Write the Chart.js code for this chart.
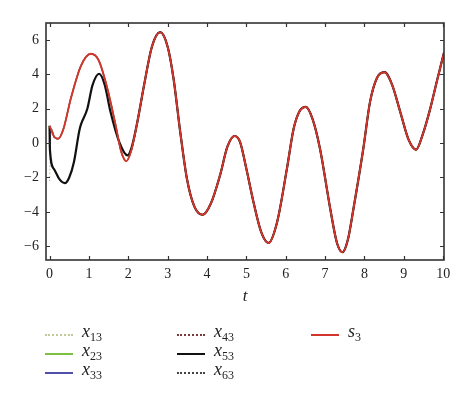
<!DOCTYPE html>
<html>
<head>
<meta charset="UTF-8">
<title>s3</title>
<style>
  body { margin: 0; background: #fff; }
  #wrap { position: relative; width: 474px; height: 402px; }
  #c { position: absolute; left: 0; top: 0; }
  .item { position: absolute; width: 110px; height: 20px; font-family: "Liberation Serif", serif; font-size: 18px; font-style: italic; color: #222; }
  .item .ln { position: absolute; left: 0; top: 10px; width: 28px; height: 0; }
  .item .tx { position: absolute; left: 37px; top: -3px; white-space: nowrap; }
  .item sub { font-style: normal; font-size: 12px; vertical-align: -4px; }
</style>
</head>
<body>
<div id="wrap">
  <canvas id="c" width="474" height="402"></canvas>
  <div id="legend"></div>
</div>
<script src="https://cdn.jsdelivr.net/npm/chart.js"></script>
<script>
// s3 (red)
const tS3 = [0, 0.04, 0.12, 0.22, 0.35, 0.54, 0.80, 1.05, 1.25, 1.47, 1.68, 1.82, 1.95, 2.08, 2.23, 2.40, 2.60, 2.81,
  3.00, 3.15, 3.32, 3.49, 3.68, 3.89, 4.10, 4.33, 4.52, 4.70, 4.84, 5.00, 5.18, 5.38, 5.56, 5.78, 6.03, 6.20, 6.35,
  6.51, 6.68, 6.87, 7.13, 7.30, 7.44, 7.58, 7.72, 7.97, 8.14, 8.32, 8.51, 8.70, 8.91, 9.12, 9.31, 9.48, 9.67, 9.85, 10.02];
const s3 = [0.99, 0.8, 0.35, 0.25, 0.8, 2.58, 4.5, 5.19, 4.8, 3.16, 1.03, -0.5, -1.05, -0.4, 1.22, 3.35, 5.6, 6.45,
  5.6, 3.74, 0.64, -2.08, -3.7, -4.17, -3.5, -1.88, -0.2, 0.41, 0.06, -1.5, -3.43, -5.2, -5.81, -4.6, -1.49, 0.83, 1.85,
  2.10, 1.4, -0.33, -3.82, -5.8, -6.35, -5.6, -3.82, -0.33, 2.38, 3.8, 4.12, 3.4, 1.80, 0.2, -0.38, 0.5, 2.0, 3.7, 5.25];

// x53 (black) before it joins s3
const tX53 = [0, 0.01, 0.11, 0.25, 0.39, 0.50, 0.62, 0.75, 0.79, 0.96, 1.09, 1.26, 1.40, 1.55, 1.77, 1.98, 2.08, 2.23];
const x53 = [1.0, -0.4, -1.5, -2.1, -2.33, -2.0, -1.1, 0.64, 1.03, 1.99, 3.35, 4.03, 3.4, 1.8, 0.06, -0.72, -0.3, 1.22];

// the other states start somewhere else and join s3 almost at once
const otherNames = ['x13', 'x23', 'x33', 'x43', 'x63'];
const otherStart = [-2.2, 1.0, -0.2, 0.0, -0.4];

const xTicks = [0, 1, 2, 3, 4, 5, 6, 7, 8, 9, 10];
const yTicks = [-6, -4, -2, 0, 2, 4, 6];

const styles = {
  x13: { color: '#c3c89a', dash: [1.5, 2], w: 1.2 },
  x23: { color: '#7cc142', dash: [], w: 1.4 },
  x33: { color: '#4f4fa8', dash: [], w: 1.4 },
  x43: { color: '#7a3a3a', dash: [1.5, 2], w: 1.2 },
  x53: { color: '#111111', dash: [], w: 2.2 },
  x63: { color: '#444444', dash: [1.5, 2], w: 1.2 },
  s3:  { color: '#d3352d', dash: [], w: 1.9 }
};

const s3Pts = tS3.map((t, i) => ({ x: t, y: s3[i] }));

function ds(name, data) {
  const st = styles[name];
  return {
    label: name, data: data,
    borderColor: st.color, borderWidth: st.w, borderDash: st.dash,
    pointRadius: 0, fill: false, cubicInterpolationMode: 'monotone'
  };
}

const datasets = [ds('s3', s3Pts)]; // first = drawn on top
datasets.push(ds('x53', tX53.map((t, i) => ({ x: t, y: x53[i] }))
  .concat(s3Pts.filter(p => p.x > tX53[tX53.length - 1]))));
otherNames.forEach((n, k) => {
  datasets.push(ds(n, [{ x: 0, y: otherStart[k] }].concat(s3Pts.slice(1))));
});

const serif = '"Liberation Serif", "DejaVu Serif", serif';

const frame = {
  id: 'frame',
  afterDatasetsDraw(chart) {
    const { ctx, chartArea: a, scales: { x, y } } = chart;
    ctx.save();
    ctx.strokeStyle = '#333';
    ctx.lineWidth = 1.6;
    ctx.strokeRect(a.left, a.top, a.right - a.left, a.bottom - a.top);
    ctx.beginPath();
    xTicks.forEach(v => {
      const px = Math.round(x.getPixelForValue(v)) + 0.5;
      ctx.moveTo(px, a.bottom); ctx.lineTo(px, a.bottom - 4);
      ctx.moveTo(px, a.top); ctx.lineTo(px, a.top + 4);
    });
    yTicks.forEach(v => {
      const py = Math.round(y.getPixelForValue(v)) + 0.5;
      ctx.moveTo(a.left, py); ctx.lineTo(a.left + 4, py);
      ctx.moveTo(a.right, py); ctx.lineTo(a.right - 4, py);
    });
    ctx.lineWidth = 1.2;
    ctx.stroke();
    ctx.restore();
  }
};

new Chart(document.getElementById('c'), {
  type: 'line',
  data: { datasets: datasets },
  options: {
    responsive: false,
    animation: false,
    layout: { padding: { left: 0, top: 23, right: 30, bottom: 92 } },
    plugins: { legend: { display: false }, tooltip: { enabled: false } },
    scales: {
      x: {
        type: 'linear', min: -0.09, max: 10.02,
        afterBuildTicks: s => { s.ticks = xTicks.map(v => ({ value: v })); },
        afterFit: s => { s.height = 50; },
        grid: { display: false, drawTicks: false },
        border: { display: false },
        ticks: { padding: 6, color: '#222', font: { family: serif, size: 14 }, maxRotation: 0 },
        title: { display: true, text: 't', color: '#222', font: { family: serif, size: 17, style: 'italic' }, padding: { top: 0, bottom: 3 } }
      },
      y: {
        min: -6.8, max: 6.98,
        afterBuildTicks: s => { s.ticks = yTicks.map(v => ({ value: v })); },
        afterFit: s => { s.width = 46; },
        grid: { display: false, drawTicks: false },
        border: { display: false },
        ticks: { padding: 7, color: '#222', font: { family: serif, size: 14 },
          callback: v => String(v).replace('-', '\u2212') }
      }
    }
  },
  plugins: [frame]
});

// legend below the plot, three columns
const legendCols = [['x13', 'x23', 'x33'], ['x43', 'x53', 'x63'], ['s3']];
const colLeft = [45, 177, 311];
const rowTop = [324, 343, 362];
const legend = document.getElementById('legend');
legendCols.forEach((col, c) => {
  col.forEach((name, r) => {
    const st = styles[name];
    const item = document.createElement('div');
    item.className = 'item';
    item.style.left = colLeft[c] + 'px';
    item.style.top = rowTop[r] + 'px';
    const ln = document.createElement('div');
    ln.className = 'ln';
    ln.style.borderTop = (st.dash.length ? '2px dotted ' : '2px solid ') + st.color;
    if (name === 'x53') ln.style.borderTopWidth = '2.5px';
    const tx = document.createElement('div');
    tx.className = 'tx';
    tx.innerHTML = name[0] + '<sub>' + name.slice(1) + '</sub>';
    item.appendChild(ln);
    item.appendChild(tx);
    legend.appendChild(item);
  });
});
</script>
</body>
</html>
